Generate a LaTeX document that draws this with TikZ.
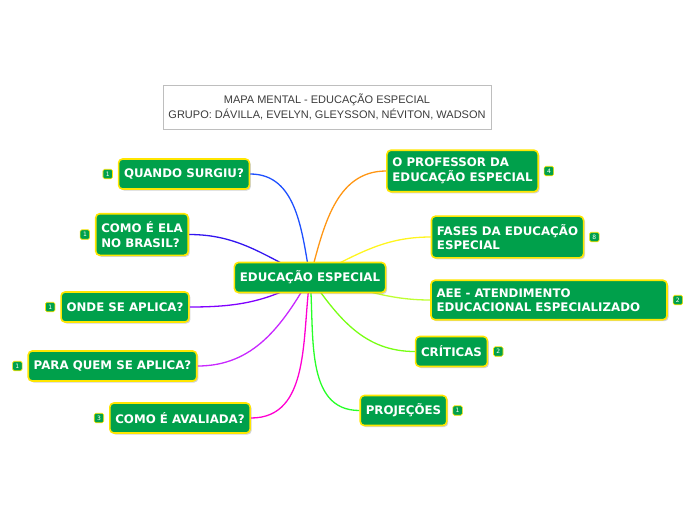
\documentclass[tikz,border=0pt]{standalone}
\usepackage{fontspec}
\setmainfont{DejaVu Sans}
\newfontfamily\titlefont{Liberation Sans}
\usetikzlibrary{positioning,shadows,backgrounds}
\definecolor{nodegreen}{RGB}{0,160,75}
\definecolor{nodeborder}{RGB}{255,230,0}
\definecolor{titlegray}{RGB}{190,190,190}
\definecolor{titletext}{RGB}{60,60,60}
\definecolor{cquando}{RGB}{30,80,255}
\definecolor{cbrasil}{RGB}{50,20,240}
\definecolor{conde}{RGB}{128,0,255}
\definecolor{cpara}{RGB}{200,40,255}
\definecolor{caval}{RGB}{255,0,210}
\definecolor{cprof}{RGB}{255,150,20}
\definecolor{cfases}{RGB}{255,245,30}
\definecolor{caee}{RGB}{190,255,50}
\definecolor{ccrit}{RGB}{120,255,20}
\definecolor{cproj}{RGB}{40,255,40}
\begin{document}
\begin{tikzpicture}[x=1pt,y=-1pt,
    topic/.style={draw=nodeborder, line width=1.6pt, fill=nodegreen,
        rounded corners=4pt, text=white, align=left,
        font=\bfseries\fontsize{11.8}{14.5}\selectfont,
        inner xsep=5.5pt, inner ysep=8pt, minimum height=30pt,
        drop shadow={shadow xshift=1.5pt, shadow yshift=-1.5pt, opacity=0.35}},
    badge/.style={draw=nodeborder, line width=0.6pt, fill=nodegreen,
        rounded corners=1.5pt, text=white, font=\fontsize{6}{6}\selectfont,
        minimum size=9.5pt, inner sep=0pt},
    lnk/.style={line width=1.3pt}]
    \useasboundingbox (0,0) rectangle (696,520);

    \node[draw=titlegray, fill=white, text=titletext, align=center,
        font=\titlefont\fontsize{11}{15}\selectfont,
        minimum width=328pt, minimum height=44pt] (title) at (327,107)
        {MAPA MENTAL - EDUCAÇÃO ESPECIAL\\GRUPO: DÁVILLA, EVELYN, GLEYSSON, NÉVITON, WADSON};

    \node[topic] (ctr) at (310,277.5) {EDUCAÇÃO ESPECIAL};

    % left side
    \node[topic] (quando) at (184,174) {QUANDO SURGIU?};
    \node[topic] (brasil) at (142,234.5) {COMO É ELA\\NO BRASIL?};
    \node[topic] (onde) at (125,307) {ONDE SE APLICA?};
    \node[topic] (para) at (112.5,366) {PARA QUEM SE APLICA?};
    \node[topic] (aval) at (180,418) {COMO É AVALIADA?};

    % right side
    \node[topic] (prof) at (462.5,171) {O PROFESSOR DA\\EDUCAÇÃO ESPECIAL};
    \node[topic] (fases) at (507.5,237) {FASES DA EDUCAÇÃO\\ESPECIAL};
    \node[topic, text width=225pt] (aee) at (549,300) {AEE - ATENDIMENTO\\EDUCACIONAL ESPECIALIZADO};
    \node[topic] (crit) at (451.5,351.5) {CRÍTICAS};
    \node[topic] (proj) at (403.5,410.5) {PROJEÇÕES};

    % counters
    \node[badge, left=5pt of quando] (nquando) {1};
    \node[badge, left=5pt of brasil] (nbrasil) {1};
    \node[badge, left=5pt of onde] (nonde) {1};
    \node[badge, left=5pt of para] (npara) {1};
    \node[badge, left=5pt of aval] (naval) {3};
    \node[badge, right=5pt of prof] (nprof) {4};
    \node[badge, right=5pt of fases] (nfases) {8};
    \node[badge, right=5pt of aee] (naee) {2};
    \node[badge, right=5pt of crit] (ncrit) {2};
    \node[badge, right=5pt of proj] (nproj) {1};

    \begin{scope}[on background layer]
        \draw[lnk, cquando] (ctr.center) to[out=100, in=0] (quando.east);
        \draw[lnk, cbrasil] (ctr.center) to[out=155, in=0] (brasil.east);
        \draw[lnk, conde] (ctr.center) to[out=210, in=0] (onde.east);
        \draw[lnk, cpara] (ctr.center) to[out=240, in=0] (para.east);
        \draw[lnk, caval] (ctr.center) to[out=262, in=0] (aval.east);
        \draw[lnk, cprof] (ctr.center) to[out=75, in=180] (prof.west);
        \draw[lnk, cfases] (ctr.center) to[out=25, in=180] (fases.west);
        \draw[lnk, caee] (ctr.center) to[out=-10, in=180] (aee.west);
        \draw[lnk, ccrit] (ctr.center) to[out=-55, in=180] (crit.west);
        \draw[lnk, cproj] (ctr.center) to[out=-85, in=180] (proj.west);
    \end{scope}
\end{tikzpicture}
\end{document}
